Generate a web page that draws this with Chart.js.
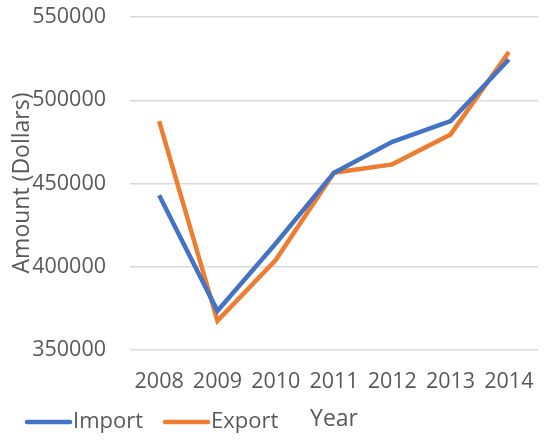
<!DOCTYPE html>
<html>
<head>
<meta charset="utf-8">
<script src="https://cdn.jsdelivr.net/npm/chart.js@4.4.3/dist/chart.umd.min.js"></script>
<style>
  html, body { margin: 0; padding: 0; background: #fff; }
  #wrap { width: 556px; height: 444px; }
</style>
</head>
<body>
<div id="wrap"><canvas id="chart" width="556" height="444"></canvas></div>
<script>
const years = ["2008", "2009", "2010", "2011", "2012", "2013", "2014"];
const importValues = [443000, 373500, 414000, 456500, 475000, 487500, 524500];
const exportValues = [487500, 367500, 404000, 456500, 461500, 479500, 529000];
const yTicks = [350000, 400000, 450000, 500000, 550000];

const TEXT = "#595959";
const FONT = "'Open Sans', sans-serif";

// draws both axis titles and the legend row by hand, Excel style
const labelsPlugin = {
  id: "labels",
  afterDraw(chart) {
    const { ctx, chartArea } = chart;
    ctx.save();
    ctx.fillStyle = TEXT;

    // y title overlaps the tick labels like in the source
    ctx.font = `23px ${FONT}`;
    ctx.textAlign = "center";
    ctx.textBaseline = "middle";
    ctx.translate(22, 183);
    ctx.rotate(-Math.PI / 2);
    ctx.fillText("Amount (Dollars)", 0, 0);
    ctx.setTransform(1, 0, 0, 1, 0, 0);

    ctx.font = `23px ${FONT}`;
    ctx.fillText("Year", (chartArea.left + chartArea.right) / 2, 419);

    // legend
    ctx.font = `22px ${FONT}`;
    let x = 27;
    const y = 422;
    ctx.textAlign = "left";
    chart.data.datasets.forEach((ds) => {
      ctx.strokeStyle = ds.borderColor;
      ctx.lineWidth = 4.5;
      ctx.lineCap = "round";
      ctx.beginPath();
      ctx.moveTo(x, y);
      ctx.lineTo(x + 43, y);
      ctx.stroke();
      ctx.fillText(ds.label, x + 46, y);
      x += 46 + ctx.measureText(ds.label).width + 22;
    });
    ctx.restore();
  },
};

new Chart(document.getElementById("chart"), {
  type: "line",
  data: {
    labels: years,
    datasets: [
      {
        label: "Import",
        data: importValues,
        borderColor: "#4472c4",
        borderWidth: 4.5,
        pointRadius: 0,
        tension: 0,
      },
      {
        label: "Export",
        data: exportValues,
        borderColor: "#ed7d31",
        borderWidth: 4.5,
        pointRadius: 0,
        tension: 0,
      },
    ],
  },
  options: {
    responsive: false,
    animation: false,
    layout: { padding: { top: 17, right: 18, bottom: 34, left: 0 } },
    plugins: {
      legend: { display: false },
      tooltip: { enabled: false },
    },
    scales: {
      x: {
        offset: true,
        grid: { display: false, drawTicks: false },
        border: { display: false },
        ticks: {
          color: TEXT,
          font: { family: FONT, size: 21.5 },
          padding: 19,
          maxRotation: 0,
        },
        afterFit(scale) {
          scale.height = 60;
        },
      },
      y: {
        min: 350000,
        max: 550000,
        grid: { color: "#d9d9d9", lineWidth: 1.5, drawTicks: false },
        border: { display: false },
        afterBuildTicks(scale) {
          scale.ticks = yTicks.map((value) => ({ value }));
        },
        ticks: {
          color: TEXT,
          font: { family: FONT, size: 21.5 },
          padding: 24,
          callback: (value) => String(value),
        },
        afterFit(scale) {
          scale.width = 130;
          scale.paddingTop = 0;
          scale.paddingBottom = 0;
        },
      },
    },
  },
  plugins: [labelsPlugin],
});
</script>
</body>
</html>
